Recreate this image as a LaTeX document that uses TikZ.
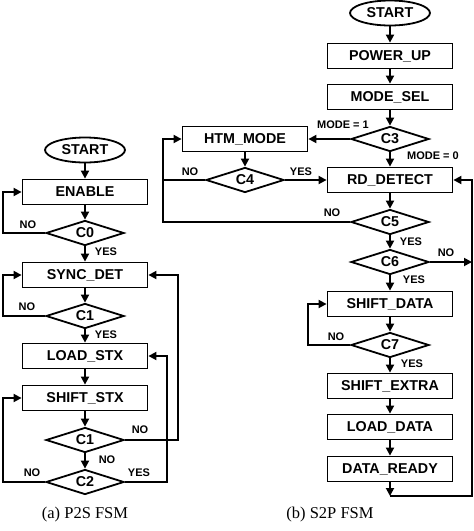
\documentclass[tikz,border=0pt]{standalone}
\usepackage{fontspec}
\setmainfont{Liberation Serif}
\setsansfont{Liberation Sans}
\usetikzlibrary{arrows.meta,positioning,calc,shapes.geometric}

\begin{document}
\begin{tikzpicture}[
    x=1pt, y=-1pt,
    >={Triangle[length=8pt,width=8pt]},
    flow/.style={line width=1.8pt,->},
    wire/.style={line width=1.8pt},
    state/.style={draw, line width=1.8pt, minimum width=125pt, minimum height=25pt,
                  inner sep=0pt, font=\sffamily\bfseries\fontsize{14.3}{16}\selectfont},
    cond/.style={draw, diamond, aspect=3, line width=1.8pt, minimum width=78pt,
                 minimum height=25pt, inner sep=0pt,
                 font=\sffamily\bfseries\fontsize{14.3}{16}\selectfont},
    term/.style={draw, ellipse, line width=1.8pt, minimum width=80pt, minimum height=25pt,
                 inner sep=0pt, font=\sffamily\bfseries\fontsize{14.3}{16}\selectfont},
    lbl/.style={inner sep=0pt, font=\sffamily\bfseries\fontsize{11}{12}\selectfont},
    caption/.style={font=\rmfamily\fontsize{16.5}{18}\selectfont},
]
\useasboundingbox (0,0) rectangle (474,531);

%-----------------------------------------------------------------------
% (a) P2S FSM
\node[term]  (startA) at (85,150) {START};
\node[state] (enable) at (85,192) {ENABLE};
\node[cond]  (c0)     at (85,233) {C0};
\node[state] (sync)   at (85,275) {SYNC\_DET};
\node[cond]  (c1a)    at (85,316) {C1};
\node[state] (load)   at (85,356) {LOAD\_STX};
\node[state] (shift)  at (85,398) {SHIFT\_STX};
\node[cond]  (c1b)    at (85,440) {C1};
\node[cond]  (c2)     at (85,482) {C2};
\node[caption] (capA) at (85,515) {(a) P2S FSM};

% rails of the loops
\coordinate (railL)  at (3,0);
\coordinate (railR1) at (178,0);
\coordinate (railR2) at (167,0);

\draw[flow] (startA) -- (enable);
\draw[flow] (enable) -- (c0);
\draw[flow] (c0) -- (sync);
\draw[flow] (c0.west) -| (railL |- enable.west) -- (enable.west);
\draw[flow] (sync) -- (c1a);
\draw[flow] (c1a) -- (load);
\draw[flow] (c1a.west) -| (railL |- sync.west) -- (sync.west);
\draw[flow] (load) -- (shift);
\draw[flow] (shift) -- (c1b);
\draw[flow] (c1b) -- (c2);
\draw[flow] (c1b.east) -| (railR1 |- sync.east) -- (sync.east);
\draw[flow] (c2.east) -| (railR2 |- load.east) -- (load.east);
\draw[flow] (c2.west) -| (railL |- shift.west) -- (shift.west);

\node[lbl] (n0)  at (28,225)  {NO};
\node[lbl] (y0)  at (106,252) {YES};
\node[lbl] (n1a) at (27,307)  {NO};
\node[lbl] (y1a) at (106,335) {YES};
\node[lbl] (n1b) at (140,430) {NO};
\node[lbl] (n1c) at (107,460) {NO};
\node[lbl] (n2)  at (32,473)  {NO};
\node[lbl] (y2)  at (139,473) {YES};

%-----------------------------------------------------------------------
% (b) S2P FSM
\node[term]  (startB)  at (390,13)  {START};
\node[state] (power)   at (390,56)  {POWER\_UP};
\node[state] (modesel) at (390,97)  {MODE\_SEL};
\node[cond]  (c3)      at (390,139) {C3};
\node[state] (htm)     at (245,139) {HTM\_MODE};
\node[cond]  (c4)      at (245,180) {C4};
\node[state] (rd)      at (390,180) {RD\_DETECT};
\node[cond]  (c5)      at (390,222) {C5};
\node[cond]  (c6)      at (390,262) {C6};
\node[state] (sdata)   at (390,304) {SHIFT\_DATA};
\node[cond]  (c7)      at (390,345) {C7};
\node[state] (sextra)  at (390,386) {SHIFT\_EXTRA};
\node[state] (ldata)   at (390,427) {LOAD\_DATA};
\node[state] (dready)  at (390,469) {DATA\_READY};
\node[caption] (capB)  at (330,515) {(b) S2P FSM};

% rails of the loops
\coordinate (railH) at (163,0);
\coordinate (railC) at (308,0);
\coordinate (railB) at (472,0);
\coordinate (bend)  at (390,496);

\draw[flow] (startB) -- (power);
\draw[flow] (power) -- (modesel);
\draw[flow] (modesel) -- (c3);
\draw[flow] (c3.west) -- (htm.east);
\draw[flow] (c3) -- (rd);
\draw[flow] (htm) -- (c4);
\draw[flow] (c4.east) -- (rd.west);
\draw[wire] (c4.west) -- (railH |- c4.west);
\draw[flow] (rd) -- (c5);
\draw[flow] (c5.west) -| (railH |- htm.west) -- (htm.west);
\draw[flow] (c5) -- (c6);
\draw[flow] (c6.east) -- (railB |- c6.east);
\draw[flow] (c6) -- (sdata);
\draw[flow] (sdata) -- (c7);
\draw[flow] (c7) -- (sextra);
\draw[flow] (c7.west) -| (railC |- sdata.west) -- (sdata.west);
\draw[flow] (sextra) -- (ldata);
\draw[flow] (ldata) -- (dready);
\draw[flow] (dready) -- (bend);
\draw[flow] (bend) -| (railB |- rd.east) -- (rd.east);

\node[lbl] (m1) at (343,125) {MODE = 1};
\node[lbl] (m0) at (433,156) {MODE = 0};
\node[lbl] (n4) at (190,172) {NO};
\node[lbl] (y4) at (301,172) {YES};
\node[lbl] (n5) at (332,213) {NO};
\node[lbl] (y5) at (411,242) {YES};
\node[lbl] (n6) at (446,253) {NO};
\node[lbl] (y6) at (414,280) {YES};
\node[lbl] (n7) at (336,337) {NO};
\node[lbl] (y7) at (412,364) {YES};

\end{tikzpicture}
\end{document}
